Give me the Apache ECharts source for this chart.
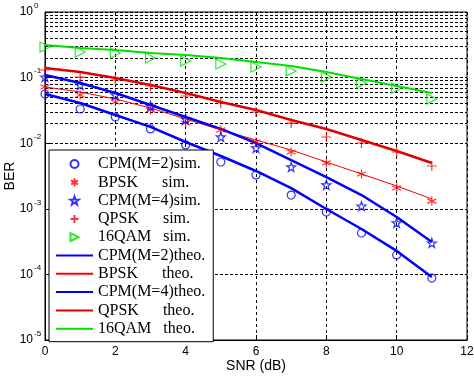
<!DOCTYPE html>
<html>
<head>
<meta charset="utf-8">
<script src="https://cdn.jsdelivr.net/npm/echarts@6/dist/echarts.min.js"></script>
<style>html,body{margin:0;padding:0;background:#fff;}#c{width:474px;height:377px;}</style>
</head>
<body>
<div id="c"></div>
<script>
const snr = [0, 1, 2, 3, 4, 5, 6, 7, 8, 9, 10, 11];
const cpm2Sim = [0.0562, 0.0332, 0.0251, 0.0165, 0.0094, 0.00517, 0.00328, 0.00162, 0.000894, 0.000428, 0.000198, 0.000088];
const bpskSim = [0.0719, 0.0543, 0.0425, 0.0321, 0.0203, 0.0159, 0.01043, 0.00734, 0.00499, 0.00339, 0.00207, 0.00131];
const cpm4Sim = [0.102, 0.0771, 0.0543, 0.0369, 0.0234, 0.01244, 0.00845, 0.00434, 0.00231, 0.0011, 0.00061, 0.000301];
const qpskSim = [0.1306, 0.102, 0.0919, 0.0745, 0.0524, 0.041, 0.0299, 0.0203, 0.01244, 0.01007, 0.00734, 0.00449];
const qam16Sim = [0.293, 0.246, 0.237, 0.199, 0.179, 0.161, 0.145, 0.126, 0.102, 0.0827, 0.0694, 0.0472];
const cpm2Theo = [0.0562, 0.041, 0.0269, 0.0177, 0.01043, 0.00638, 0.00377, 0.00207, 0.000993, 0.000492, 0.000228, 0.0000912];
const bpskTheo = [0.0719, 0.0603, 0.0472, 0.0344, 0.0234, 0.0159, 0.0112, 0.00787, 0.00517, 0.00339, 0.00223, 0.00141];
const cpm4Theo = [0.1096, 0.0827, 0.0582, 0.0382, 0.0251, 0.0165, 0.01007, 0.00554, 0.00305, 0.00162, 0.00075, 0.000312];
const qpskTheo = [0.14, 0.122, 0.0986, 0.0771, 0.0582, 0.0425, 0.0321, 0.0226, 0.0165, 0.0112, 0.0076, 0.00499];
const qam16Theo = [0.314, 0.283, 0.264, 0.237, 0.221, 0.199, 0.173, 0.15, 0.122, 0.0952, 0.0745, 0.0582];
const xTicks = [0, 2, 4, 6, 8, 10, 12];
const yDecadeExponents = [-5, -4, -3, -2, -1, 0];
const minorMultipliers = [2, 3, 4, 5, 6, 7, 8, 9];
const simNames = ['CPM(M=2)sim.', 'BPSK      sim.', 'CPM(M=4)sim.', 'QPSK      sim.', '16QAM   sim.'];
const theoNames = ['CPM(M=2)theo.', 'BPSK      theo.', 'CPM(M=4)theo.', 'QPSK      theo.', '16QAM   theo.'];

const BLUE = '#0000ff', RED = '#ff0000', GREEN = '#00e000';
const pts = arr => snr.map((x, i) => [x, arr[i]]);

function starPath() {
  let s = 'path://';
  for (let i = 0; i < 10; i++) {
    const r = i % 2 === 0 ? 10 : 4;
    const a = -Math.PI / 2 + i * Math.PI / 5;
    s += (i === 0 ? 'M' : 'L') + (10 + r * Math.cos(a)).toFixed(2) + ',' + (10 + r * Math.sin(a)).toFixed(2);
  }
  return s + 'Z';
}
const SYM = {
  circle: 'circle',
  asterisk: 'path://M5,0L5,10M0.7,2.5L9.3,7.5M0.7,7.5L9.3,2.5',
  star: starPath(),
  plus: 'path://M5,0L5,10M0,5L10,5',
  tri: 'path://M0,0L10,5L0,10Z'
};

function simSeries(name, arr, color, symbol, size) {
  return {
    name: name, type: 'scatter', data: pts(arr), symbol: symbol, symbolSize: size, z: 4,
    itemStyle: { color: 'rgba(0,0,0,0)', borderColor: color, borderWidth: 1.2 }
  };
}
function theoSeries(name, arr, color, width) {
  return {
    name: name, type: 'line', data: pts(arr), symbol: 'none', showSymbol: false, z: 3,
    lineStyle: { color: color, width: width }, itemStyle: { color: color }
  };
}

const minorVals = [];
yDecadeExponents.slice(0, -1).forEach(e => minorMultipliers.forEach(m => minorVals.push(m * Math.pow(10, e))));
const decadeOf = v => Math.round(Math.log10(v));

const legendData = simNames.map(n => ({ name: n }))
  .concat(theoNames.map(n => ({ name: n, itemStyle: { opacity: 0 } })));

const chart = echarts.init(document.getElementById('c'));
chart.setOption({
  animation: false,
  backgroundColor: '#fff',
  grid: { left: 45, top: 12, right: 7, bottom: 37, outerBoundsMode: 'none', containLabel: false,
    show: true, borderColor: '#000', borderWidth: 1, backgroundColor: 'transparent' },
  xAxis: {
    type: 'value', min: 0, max: 12, interval: 2,
    name: 'SNR (dB)', nameLocation: 'middle', nameGap: 19, nameMoveOverlap: false,
    nameTextStyle: { color: '#000', fontSize: 14, fontFamily: 'Liberation Sans' },
    axisLine: { lineStyle: { color: '#000' } },
    axisTick: { inside: true, length: 5, lineStyle: { color: '#000' } },
    axisLabel: { color: '#000', fontSize: 12, fontFamily: 'Liberation Sans', margin: 6,
      formatter: v => xTicks.indexOf(v) >= 0 ? String(v) : '' },
    splitLine: { show: true, lineStyle: { color: '#000', type: [3, 3], width: 1 } }
  },
  yAxis: [{
    type: 'log', logBase: 10, min: 1e-5, max: 1, interval: 1,
    name: 'BER', nameLocation: 'middle', nameGap: 28, nameMoveOverlap: false,
    nameTextStyle: { color: '#000', fontSize: 14, fontFamily: 'Liberation Sans' },
    axisLine: { lineStyle: { color: '#000' } },
    axisTick: { inside: true, length: 5, lineStyle: { color: '#000' } },
    axisLabel: {
      margin: 12, color: '#000', fontSize: 12, fontFamily: 'Liberation Sans',
      formatter: v => yDecadeExponents.indexOf(decadeOf(v)) >= 0 ? '10' : ''
    },
    splitLine: { show: true, lineStyle: { color: '#000', type: [3, 2], width: 1 } }
  }, {
    type: 'log', logBase: 10, min: 1e-5, max: 1, interval: 1, position: 'left',
    axisLine: { show: false }, axisTick: { show: false }, splitLine: { show: false },
    axisLabel: {
      margin: 11, align: 'left', verticalAlign: 'bottom', lineHeight: 13,
      color: '#000', fontSize: 8, fontFamily: 'Liberation Sans',
      formatter: v => yDecadeExponents.indexOf(decadeOf(v)) >= 0 ? String(decadeOf(v)) : ''
    }
  }],
  legend: {
    orient: 'vertical', left: 49, top: 150,
    data: legendData,
    backgroundColor: '#fff', borderColor: '#000', borderWidth: 1,
    padding: [6, 8, 5, 6], itemGap: 2.3, itemWidth: 37, itemHeight: 8,
    textStyle: { color: '#000', fontSize: 16, lineHeight: 14, fontFamily: 'Liberation Serif' },
    z: 10
  },
  series: [
    {
      name: 'grid-minor', type: 'line', data: [], z: 1, silent: true,
      markLine: {
        silent: true, symbol: 'none', z: 1, animation: false, label: { show: false },
        lineStyle: { color: '#000', type: [3, 2], width: 1 },
        data: minorVals.map(v => ({ yAxis: v }))
      }
    },
    simSeries(simNames[0], cpm2Sim, BLUE, SYM.circle, 8),
    simSeries(simNames[1], bpskSim, RED, SYM.asterisk, 9),
    simSeries(simNames[2], cpm4Sim, BLUE, SYM.star, 9),
    simSeries(simNames[3], qpskSim, RED, SYM.plus, 10),
    simSeries(simNames[4], qam16Sim, GREEN, SYM.tri, 10),
    theoSeries(theoNames[0], cpm2Theo, BLUE, 2.5),
    theoSeries(theoNames[1], bpskTheo, RED, 1),
    theoSeries(theoNames[2], cpm4Theo, BLUE, 2.5),
    theoSeries(theoNames[3], qpskTheo, '#e00000', 2.5),
    theoSeries(theoNames[4], qam16Theo, GREEN, 2)
  ]
});
</script>
</body>
</html>
